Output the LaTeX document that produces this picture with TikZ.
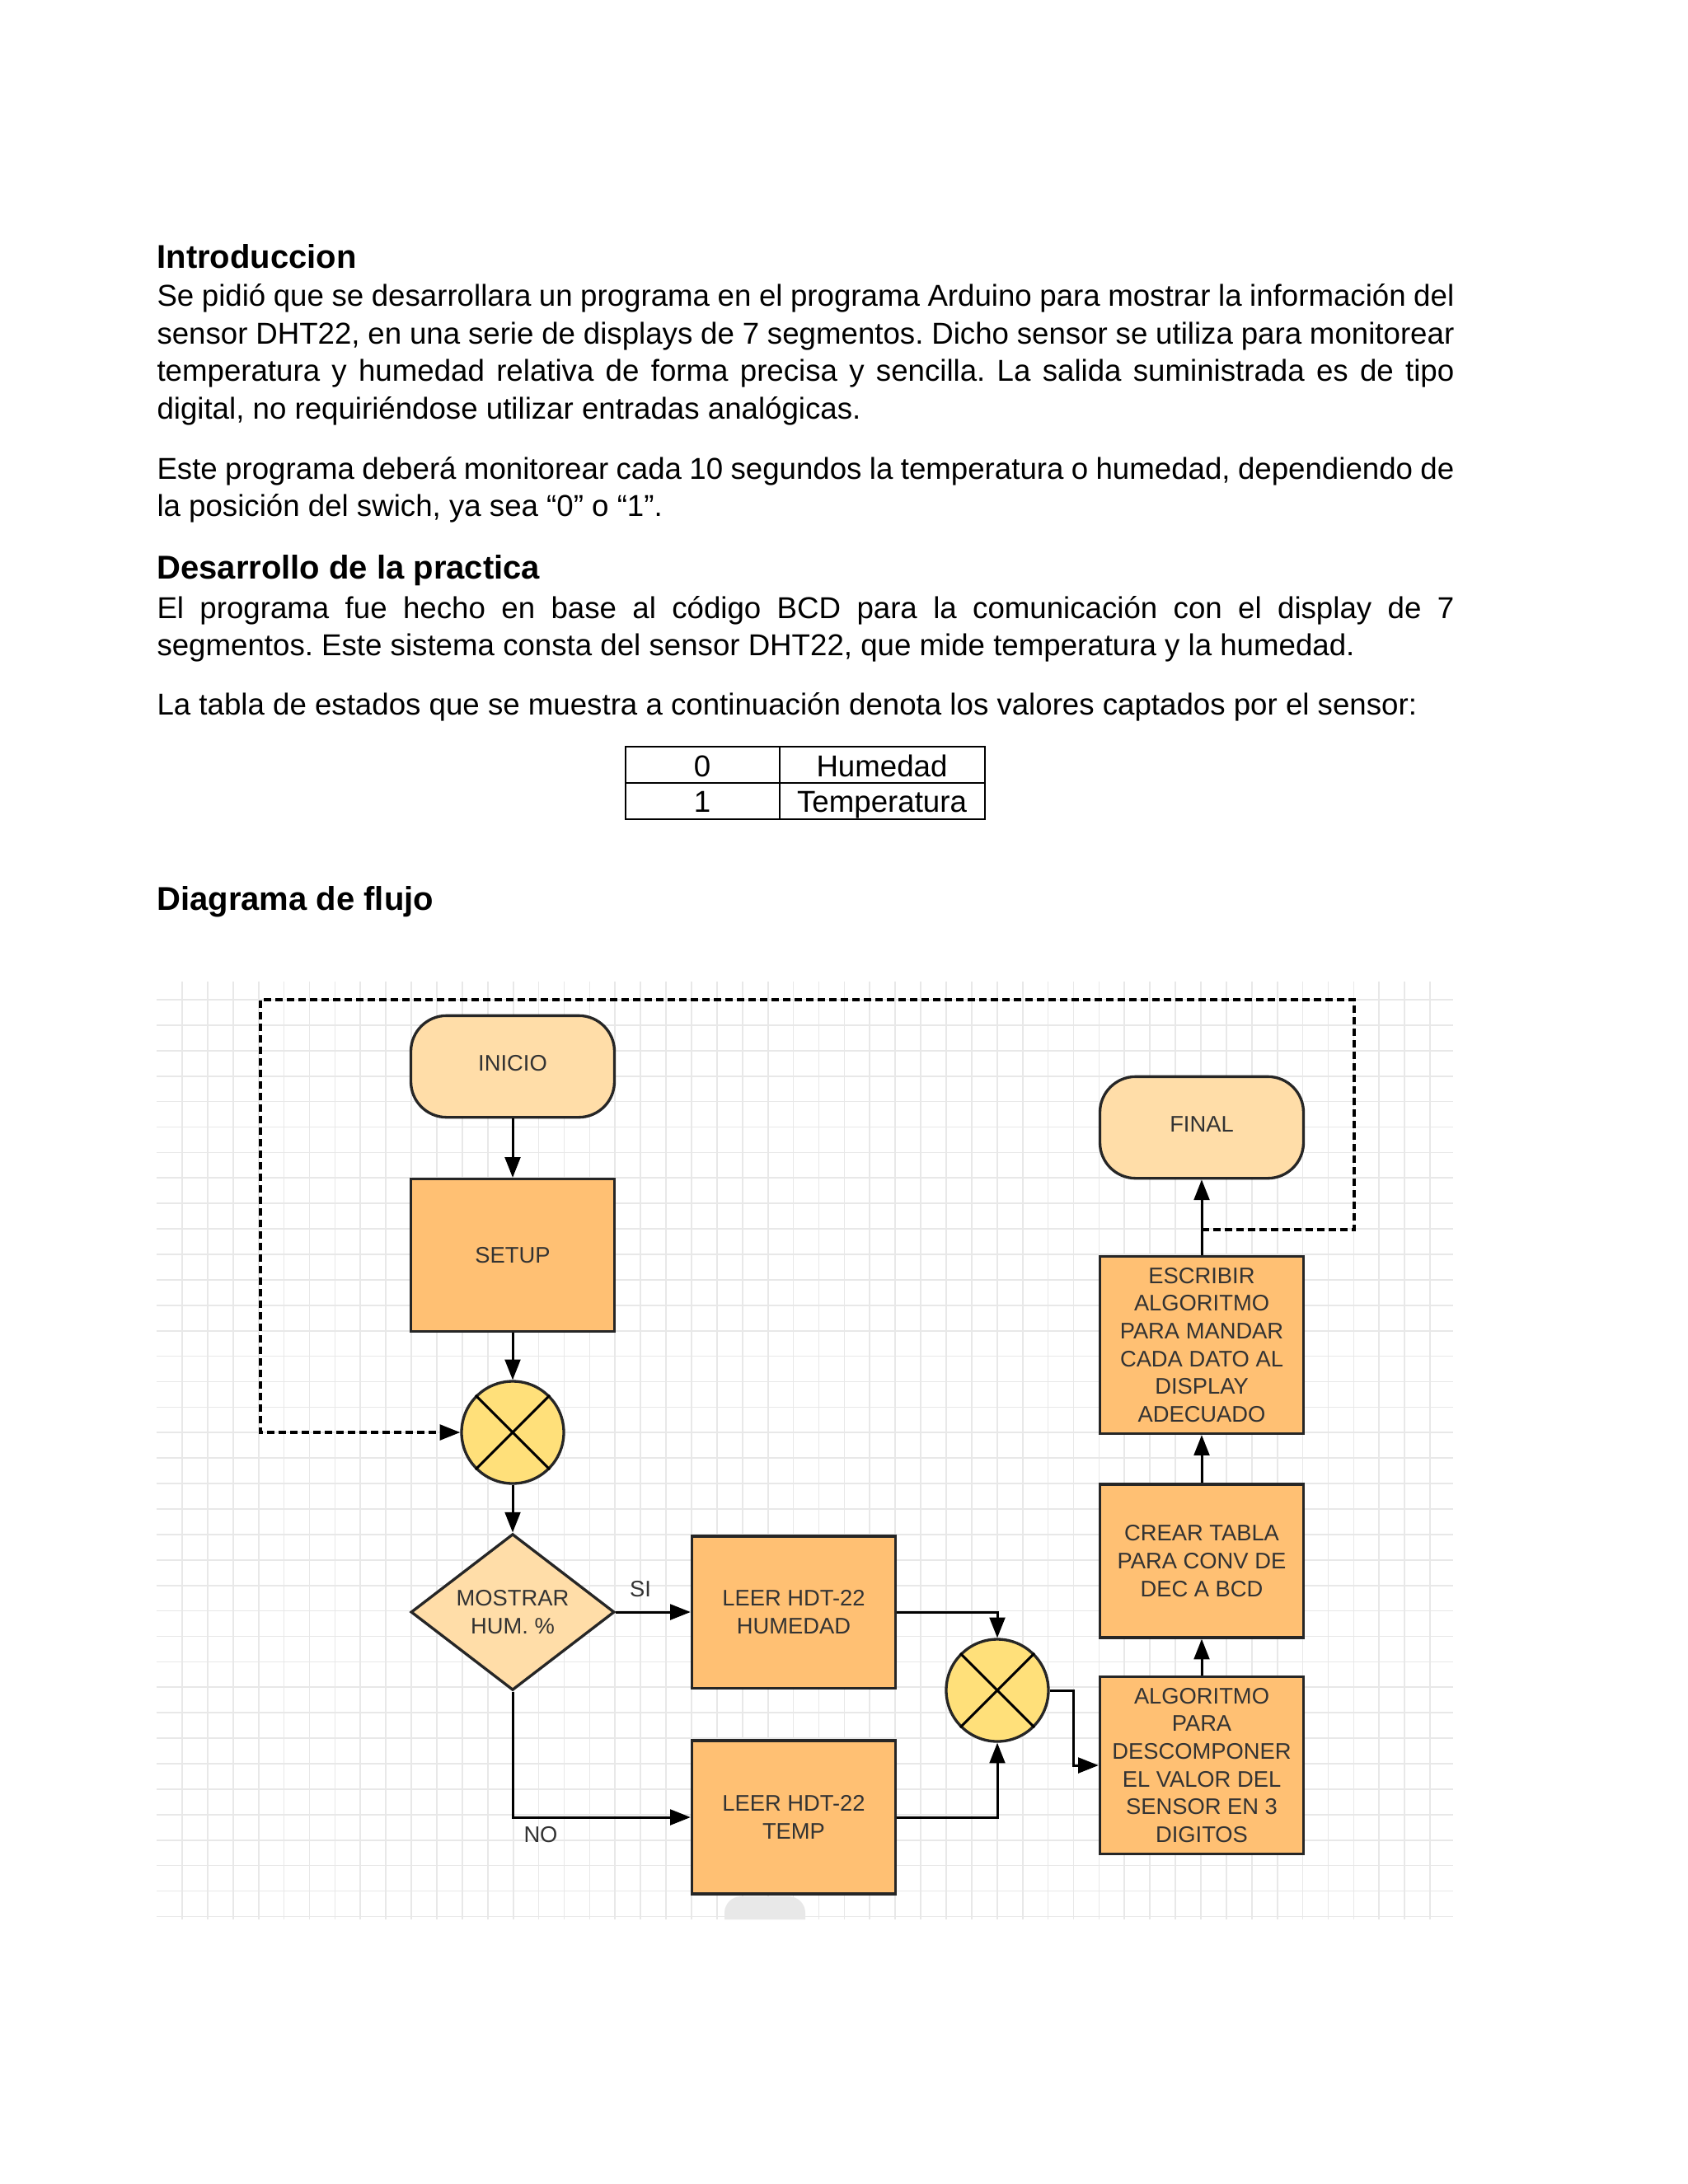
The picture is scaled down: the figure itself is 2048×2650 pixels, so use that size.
\documentclass[tikz,border=0pt]{standalone}
\usepackage{fontspec}
\setmainfont{Liberation Sans}
\usetikzlibrary{arrows.meta,shapes.geometric,positioning}
\tikzset{every picture/.style={line width=0.9pt}}
\frenchspacing

\definecolor{naranja}{HTML}{FFC073}
\definecolor{durazno}{HTML}{FFDDA8}
\definecolor{amarillo}{HTML}{FFE07A}
\definecolor{rejilla}{HTML}{E8E8E8}
\definecolor{textocaja}{HTML}{333333}

\newcommand{\justa}[1]{\makebox[472.2pt][s]{#1}}

\tikzset{
  cuerpo/.style={anchor=base west, inner sep=0pt, font=\fontsize{11}{13.7}\selectfont},
  titulo/.style={anchor=base west, inner sep=0pt, font=\fontsize{12}{14}\selectfont\bfseries},
  celda/.style={anchor=base, inner sep=0pt, font=\fontsize{11}{13.7}\selectfont},
  proceso/.style={draw=black!85, line width=1pt, fill=naranja, minimum width=74.1pt, inner sep=0pt,
    align=center, font=\fontsize{8.2}{10.1}\selectfont, text=textocaja},
  terminal/.style={proceso, fill=durazno, rounded corners=13pt, minimum height=37pt, text depth=2.6pt},
  pregunta/.style={proceso, diamond, fill=durazno, minimum width=74.1pt, minimum height=55.3pt},
  union/.style={circle, draw=black!85, line width=1pt, fill=amarillo, minimum size=37.2pt, inner sep=0pt},
  flecha/.style={-{Triangle[length=7.4pt,width=5.6pt]}},
  lazo/.style={line width=1pt, dash pattern=on 2.6pt off 1.6pt},
  etiqueta/.style={font=\fontsize{8.2}{10}\selectfont, text=textocaja, inner sep=0pt},
}

\begin{document}
\begin{tikzpicture}[x=0.3pt,y=-0.3pt]
    \useasboundingbox (0,0) rectangle (2048,2650);
    \fill[white] (0,0) rectangle (2048,2650);

    % Introduccion
    \node[titulo] (h1) at (189,325) {Introduccion};
    \node[cuerpo] (p1a) at (189,371) {\justa{Se pidió que se desarrollara un programa en el programa Arduino para mostrar la información del}};
    \node[cuerpo] (p1b) at (189,417) {\justa{sensor DHT22, en una serie de displays de 7 segmentos. Dicho sensor se utiliza para monitorear}};
    \node[cuerpo] (p1c) at (189,462) {\justa{temperatura y humedad relativa de forma precisa y sencilla. La salida suministrada es de tipo}};
    \node[cuerpo] (p1d) at (189,508) {digital, no requiriéndose utilizar entradas analógicas.};
    \node[cuerpo] (p2a) at (189,581) {\justa{Este programa deberá monitorear cada 10 segundos la temperatura o humedad, dependiendo de}};
    \node[cuerpo] (p2b) at (189,626) {la posición del swich, ya sea “0” o “1”.};

    % Desarrollo de la practica
    \node[titulo] (h2) at (189,702) {Desarrollo de la practica};
    \node[cuerpo] (p3a) at (189,750) {\justa{El programa fue hecho en base al código BCD para la comunicación con el display de 7}};
    \node[cuerpo] (p3b) at (189,795) {segmentos. Este sistema consta del sensor DHT22, que mide temperatura y la humedad.};
    \node[cuerpo] (p4) at (189,867) {La tabla de estados que se muestra a continuación denota los valores captados por el sensor:};

    % tabla de estados
    \draw[line width=0.6pt] (759,906) rectangle (1195,994);
    \draw[line width=0.6pt] (759,950) -- (1195,950);
    \draw[line width=0.6pt] (946,906) -- (946,994);
    \node[celda] (c0) at (852,942) {0};
    \node[celda] (c1) at (852,985) {1};
    \node[celda] (hum) at (1070,942) {Humedad};
    \node[celda] (tem) at (1070,985) {Temperatura};

    \node[titulo] (h3) at (189,1104) {Diagrama de flujo};

    % rejilla de fondo
    \foreach \i in {0,...,49}
        \draw[rejilla, line width=0.5pt] (221+30.9*\i,1191) -- (221+30.9*\i,2329);
    \foreach \j in {0,...,36}
        \draw[rejilla, line width=0.5pt] (190,1213+30.9*\j) -- (1763,1213+30.9*\j);
    \fill[gray!18, rounded corners=6pt] (879,2329) -- (879,2301) -- (977,2301) [sharp corners] -- (977,2329) -- cycle;

    % columna izquierda
    \node[terminal] (inicio) at (622,1294) {INICIO};
    \node[proceso, minimum height=55.5pt] (setup) at (622,1523) {SETUP};
    \node[union] (m1) at (622,1738) {};
    \draw (m1.45) -- (m1.225) (m1.135) -- (m1.315);
    \node[pregunta] (mostrar) at (622,1956) {MOSTRAR\\HUM. \%};

    % lecturas
    \node[proceso, minimum height=55.3pt] (leerh) at (963,1956) {LEER HDT-22\\HUMEDAD};
    \node[proceso, minimum height=55.8pt] (leert) at (963,2205) {LEER HDT-22\\TEMP};
    \node[union] (m2) at (1210,2051) {};
    \draw (m2.45) -- (m2.225) (m2.135) -- (m2.315);

    % columna derecha
    \node[terminal] (final) at (1458,1368) {FINAL};
    \node[proceso, minimum height=64.5pt] (escribir) at (1458,1632)
        {ESCRIBIR\\ALGORITMO\\PARA MANDAR\\CADA DATO AL\\DISPLAY\\ADECUADO};
    \node[proceso, minimum height=55.8pt] (crear) at (1458,1894)
        {CREAR TABLA\\PARA CONV DE\\DEC A BCD};
    \node[proceso, minimum height=64.5pt] (algo) at (1458,2142)
        {ALGORITMO\\PARA\\DESCOMPONER\\EL VALOR DEL\\SENSOR EN 3\\DIGITOS};

    % conexiones
    \draw[flecha] (inicio) -- (setup);
    \draw[flecha] (setup) -- (m1);
    \draw[flecha] (m1) -- (mostrar);
    \draw[flecha] (mostrar.east) -- (leerh.west);
    \node[etiqueta] (si) at (777,1928) {SI};
    \draw[flecha] (mostrar.south) |- (leert.west);
    \node[etiqueta] (no) at (656,2226) {NO};
    \draw[flecha] (leerh.east) -| (m2.north);
    \draw[flecha] (leert.east) -| (m2.south);
    \draw[flecha] (m2.east) -- ++(29,0) |- (algo.west);
    \draw[flecha] (algo) -- (crear);
    \draw[flecha] (crear) -- (escribir);
    \draw[flecha] (escribir) -- (final);

    % lazo de regreso (punteado)
    \coordinate (lazo) at (1458,1492);
    \draw[lazo, flecha] (lazo) -| (1643,1213) -| (316,1738) -- (m1.west);

\end{tikzpicture}
\end{document}
